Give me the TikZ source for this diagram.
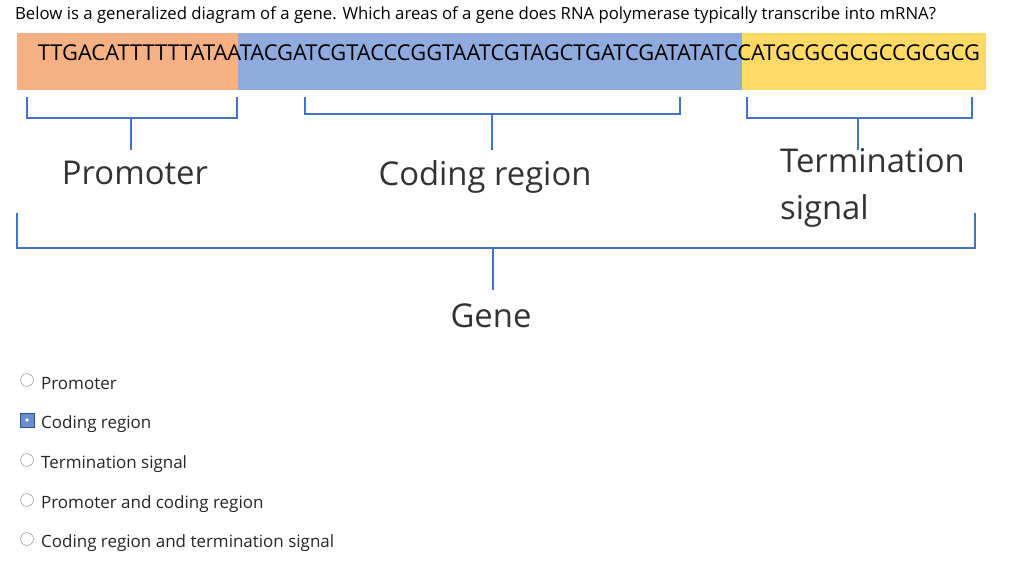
\documentclass[tikz,border=0pt]{standalone}
\usepackage{fontspec}
\setmainfont{Open Sans}
\usetikzlibrary{positioning}
\definecolor{promo}{HTML}{F5B183}
\definecolor{coding}{HTML}{8FAADC}
\definecolor{termin}{HTML}{FFD966}
\definecolor{bracecol}{HTML}{4472C4}
\begin{document}
\begin{tikzpicture}[
        x=0.03cm, y=-0.03cm,
        brace/.style={bracecol, line width=2.2pt},
        part/.style={font=\fontsize{28}{40}\selectfont, text=black!80},
        option/.style={font=\fontsize{14.5}{17}\selectfont, anchor=west, text=black!85},
        radio/.style={circle, draw=black!45, fill=white, inner sep=0pt, minimum size=11pt},
    ]
    \useasboundingbox (0,0) rectangle (1024,585);

    % -- question --
    \node[anchor=west, font=\fontsize{14.3}{17}\selectfont] (question) at (11,15)
        {Below is a generalized diagram of a gene. Which areas of a gene does RNA polymerase typically transcribe into mRNA?};

    % -- DNA bar --
    \fill[promo] (17,33) rectangle (238,90);
    \fill[coding] (238,33) rectangle (742,90);
    \fill[termin] (742,33) rectangle (986,90);
    \node[anchor=center, inner sep=0pt] (seq) at (509,53)
        {\resizebox{28.26cm}{!}{\fontsize{15}{18}\selectfont TTGACATTTTTTATAATACGATCGTACCCGGTAATCGTAGCTGATCGATATATCCATGCGCGCGCCGCGCG}};

    % -- braces --
    \draw[brace] (27,97) |- (237,118) -- (237,97) (131,118) -- (131,150);
    \draw[brace] (305,97) |- (680,114) -- (680,97) (492,114) -- (492,150);
    \draw[brace] (747,97) |- (972,118) -- (972,97) (858,118) -- (858,150);
    \draw[brace] (17,213) |- (975,248) -- (975,213) (493,248) -- (493,290);

    % -- labels --
    \node[part] (promoter) at (135,173) {Promoter};
    \node[part] (codreg) at (485,177) {Coding region};
    \node[part, anchor=west, align=left] (term) at (776,188) {Termination\\signal};
    \node[part] (gene) at (491,316) {Gene};

    % -- answers --
    \foreach \y/\t [count=\i] in {380/Promoter, 420/Coding region, 460/Termination signal,
            500/Promoter and coding region, 539/Coding region and termination signal} {
        \node[radio] (r\i) at (27,\y) {};
        \node[option] (o\i) at (37,\y+4) {\t};
    }
    \node[rectangle, draw=bracecol!70!black, fill=bracecol!80, minimum size=12pt, inner sep=0pt] (sel) at (27,420) {};
    \node[circle, fill=white, minimum size=3pt, inner sep=0pt] at (sel) {};
\end{tikzpicture}
\end{document}
